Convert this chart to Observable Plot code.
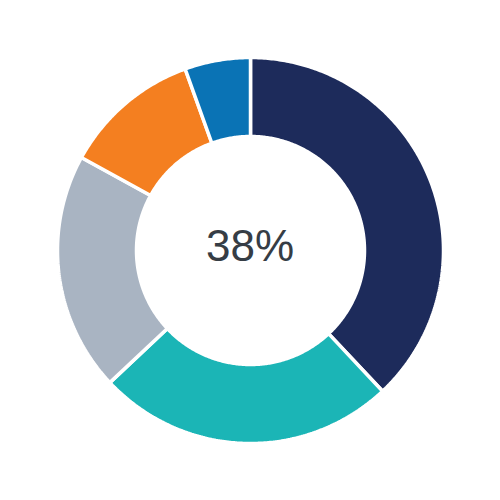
<!DOCTYPE html>
<html>
<head>
<meta charset="utf-8">
<script src="https://cdn.jsdelivr.net/npm/d3@7"></script>
<script src="https://cdn.jsdelivr.net/npm/@observablehq/plot@0.6"></script>
<style>
  html, body { margin: 0; padding: 0; background: #fff; }
  #chart { width: 500px; height: 500px; position: relative; }
  #center { position: absolute; left: 0; width: 500px; text-align: center; top: 220px;
    font-family: "Liberation Sans", Arial, sans-serif; font-size: 44px; color: #363d45; line-height: 52px; }
</style>
</head>
<body>
<div id="chart"></div>
<script>
const categories = ["A", "B", "C", "D", "E"];
const shares = [38, 25, 20, 11.5, 5.5];
const colors = ["#1d2b5b", "#1bb5b6", "#a9b4c2", "#f47f20", "#0a73b5"];
const centerLabel = "38%";

const R_OUT = 193, R_IN = 114;
const pie = d3.pie().sort(null).value(d => d.value)(categories.map((c, i) => ({cat: c, value: shares[i]})));

// polygon outline points for each donut segment (geometry only)
const pts = [];
for (const s of pie) {
  const n = Math.max(8, Math.ceil((s.endAngle - s.startAngle) / 0.01));
  const ring = [];
  for (let k = 0; k <= n; k++) {
    const a = s.startAngle + (s.endAngle - s.startAngle) * k / n;
    ring.push([R_OUT * Math.sin(a), R_OUT * Math.cos(a)]);
  }
  for (let k = n; k >= 0; k--) {
    const a = s.startAngle + (s.endAngle - s.startAngle) * k / n;
    ring.push([R_IN * Math.sin(a), R_IN * Math.cos(a)]);
  }
  ring.push(ring[0]);
  for (const [x, y] of ring) pts.push({cat: s.data.cat, x, y});
}

const plot = Plot.plot({
  width: 500, height: 500,
  margin: 0,
  x: {domain: [-250, 250], axis: null},
  y: {domain: [-250, 250], axis: null},
  color: {domain: categories, range: colors},
  marks: [
    Plot.line(pts, {x: "x", y: "y", z: "cat", fill: "cat", stroke: "white", strokeWidth: 3.5, strokeLinejoin: "miter", curve: "linear"})
  ]
});
const chart = document.getElementById("chart");
chart.appendChild(plot);
const t = document.createElement("div");
t.id = "center";
t.textContent = centerLabel;
chart.appendChild(t);
</script>
</body>
</html>
